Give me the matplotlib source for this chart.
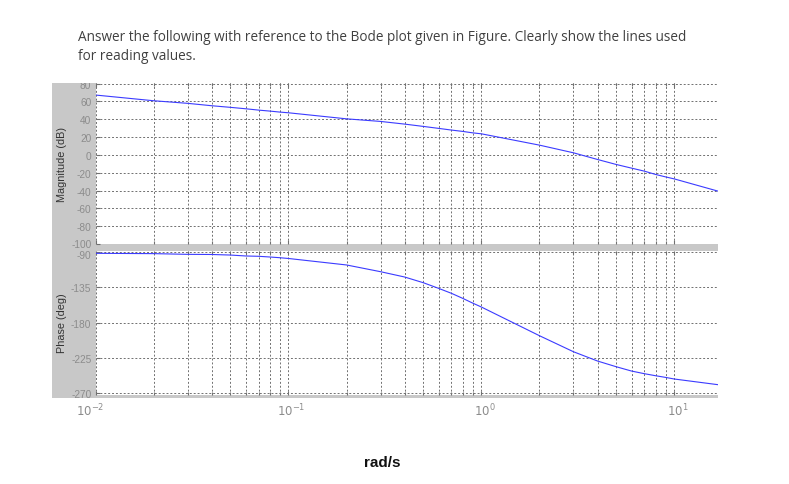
import math
import matplotlib
matplotlib.use("Agg")
import matplotlib.pyplot as plt
from matplotlib.patches import Rectangle
from matplotlib.ticker import FixedLocator, NullFormatter
from matplotlib.transforms import offset_copy

# ---- data ----
freq = [0.01, 0.02, 0.03, 0.04, 0.05, 0.06, 0.07, 0.08, 0.09, 0.1,
        0.2, 0.3, 0.4, 0.5, 0.6, 0.7, 0.8, 0.9, 1.0,
        2.0, 3.0, 4.0, 5.0, 6.0, 7.0, 8.0, 9.0, 10.0, 16.9]
mag_db = [67.1, 60.7, 57.8, 55.1, 53.3, 51.7, 50.2, 49.1, 48.0, 47.2,
          40.4, 37.5, 34.5, 31.9, 29.7, 27.8, 26.3, 24.7, 23.6,
          10.9, 2.3, -5.2, -10.8, -14.9, -18.3, -22.0, -24.7, -27.0, -40.8]
phase_deg = [-91.3, -91.7, -92.6, -92.8, -93.5, -94.7, -95.1, -96.0, -96.9, -97.9,
             -106.2, -114.8, -121.6, -128.9, -136.1, -142.5, -148.9, -154.9, -160.0,
             -196.7, -217.2, -229.1, -236.4, -241.9, -245.3, -247.9, -250.0, -252.1, -259.4]

mag_ticks = [-100, -80, -60, -40, -20, 0, 20, 40, 60, 80]
phase_ticks = [-270, -225, -180, -135, -90]
x_tick_labels = [r"$10^{-2}$", r"$10^{-1}$", r"$10^{0}$", r"$10^{1}$"]
x_tick_vals = [0.01, 0.1, 1, 10]
mag_label = "Magnitude (dB)"
phase_label = "Phase (deg)"
xlabel = "rad/s"
title_lines = ["Answer the following with reference to the Bode plot given in Figure. Clearly show the lines used",
               "for reading values."]

W, H = 789, 485
fig = plt.figure(figsize=(W / 100, H / 100), dpi=100)
fig.patch.set_facecolor("white")


def fx(px):
    return px / W


def fy(py):
    return 1 - py / H


GRAY = "#c8c8c8"
fig.patches.append(Rectangle((fx(52), fy(399)), fx(718.3) - fx(52), fy(84) - fy(399),
                             transform=fig.transFigure, facecolor=GRAY, edgecolor="none", zorder=-5))

xmin, xmax = 0.01, 16.9
left = fx(95.5)
width = fx(718.3) - fx(95.5)
ax1 = fig.add_axes([left, fy(245), width, fy(84) - fy(245)])
ax2 = fig.add_axes([left, fy(395.5), width, fy(251.7) - fy(395.5)])

line_color = "#3b3bff"
ax1.plot(freq, mag_db, color=line_color, lw=0.8)
ax2.plot(freq, phase_deg, color=line_color, lw=0.8)

minor_x = [m * 10 ** e for e in (-2, -1, 0, 1) for m in range(2, 10)]
minor_x = [v for v in minor_x if v < xmax]

for ax, ticks, ylim in ((ax1, mag_ticks, (-100, 80.6)), (ax2, phase_ticks, (-271.9, -87.95))):
    ax.set_xscale("log")
    ax.set_xlim(xmin, xmax)
    ax.set_ylim(*ylim)
    ax.set_facecolor("white")
    ax.set_yticks(ticks)
    ax.set_yticklabels([str(t) for t in ticks])
    ax.xaxis.set_major_locator(FixedLocator(x_tick_vals))
    ax.xaxis.set_minor_locator(FixedLocator(minor_x))
    ax.xaxis.set_major_formatter(NullFormatter())
    ax.xaxis.set_minor_formatter(NullFormatter())
    ax.tick_params(axis="both", which="both", direction="in", top=True, right=False,
                   colors="#707070", length=3, width=0.8, labelsize=7.3, labelcolor="#8c8c8c", pad=3)
    ax.tick_params(axis="x", which="minor", length=2)
    for lab in ax.get_yticklabels():
        lab.set_fontfamily("Liberation Sans")
    ax.grid(True, which="major", axis="both", color="#707070", linestyle=(0, (2, 2)), lw=0.7)
    ax.grid(True, which="minor", axis="x", color="#707070", linestyle=(0, (2, 2)), lw=0.7)
    for s in ax.spines.values():
        s.set_visible(False)
    ax.set_axisbelow(True)

# nudge the two touching labels at the axes joint apart
fig.canvas.draw()
lab_m100 = ax1.get_yticklabels()[0]
lab_m90 = ax2.get_yticklabels()[-1]
lab_m100.set_transform(offset_copy(lab_m100.get_transform(), fig=fig, y=1.2, units="dots"))
lab_m90.set_transform(offset_copy(lab_m90.get_transform(), fig=fig, y=-1.2, units="dots"))

ax1.set_ylabel(mag_label, fontsize=7.8, color="#333333", fontfamily="Liberation Sans")
ax2.set_ylabel(phase_label, fontsize=7.8, color="#333333", fontfamily="Liberation Sans")
for ax, cy in ((ax1, 165), (ax2, 323)):
    ax.yaxis.label.set_va("center")
    ax.yaxis.set_label_coords(fx(62), fy(cy), transform=fig.transFigure)

# white cover above the gray strip (clips top label)
fig.patches.append(Rectangle((fx(40), fy(84)), fx(60), fy(70) - fy(84),
                             transform=fig.transFigure, facecolor="white", edgecolor="none", zorder=10))

# x tick labels
for xv, lab in zip(x_tick_vals, x_tick_labels):
    xpix = 95.5 + (718.3 - 95.5) * ((math.log10(xv) + 2) / (math.log10(xmax) + 2))
    if xv == 0.01:
        xpix -= 8
    fig.text(fx(xpix + 3), fy(411), lab, ha="center", va="center", fontsize=8.5, color="#8c8c8c",
             fontfamily="Liberation Sans")

fig.text(fx(382), fy(463), xlabel, ha="center", va="center", fontsize=11, fontweight="bold",
         color="#111111", fontfamily="Liberation Sans")

fig.text(fx(78), fy(38), title_lines[0], ha="left", va="center", fontsize=9.8, color="#404040",
         fontfamily="Open Sans")
fig.text(fx(78), fy(57), title_lines[1], ha="left", va="center", fontsize=9.8, color="#404040",
         fontfamily="Open Sans")

fig.savefig("out.png", dpi=100)
